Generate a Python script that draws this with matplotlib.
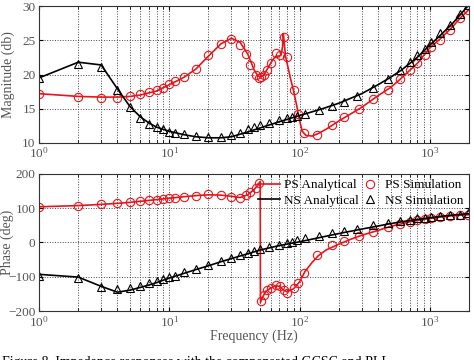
import numpy as np
import matplotlib
matplotlib.use('Agg')
import matplotlib.pyplot as plt

plt.rcParams['font.family'] = ['Liberation Serif', 'DejaVu Serif']
plt.rcParams['mathtext.fontset'] = 'stix'

### simulation points ###
ps_sim_f = [1, 2, 3, 4, 5, 6, 7, 8, 9, 10, 11, 13, 16, 20, 25, 30, 35, 39, 42, 46, 49, 51, 53, 56, 60,
            66, 71, 76, 80, 90, 98, 108, 136, 179, 218, 284, 364, 475, 590, 700, 800, 911, 1020, 1200,
            1420, 1700, 1970]
ps_sim_mag = [17.1, 16.7, 16.6, 16.6, 16.8, 17.1, 17.4, 17.7, 18.1, 18.6, 19.0, 19.7, 20.85, 22.9, 24.4,
              25.2, 24.3, 23.0, 21.4, 19.9, 19.5, 19.6, 19.9, 20.7, 21.7, 23.2, 22.85, 25.5, 22.6, 17.8,
              14.3, 11.4, 11.2, 12.6, 13.75, 14.9, 16.4, 17.8, 19.3, 20.65, 21.7, 22.85, 24.05, 25.1,
              26.5, 28.2, 29.4]
ps_sim_ph = [104.6, 107.5, 111.5, 114.4, 117.3, 120.3, 123.2, 125, 127, 129, 130.8, 133.7, 136.7, 140.5,
             138.7, 134, 130, 138, 148, 158, 172, -170, -153, -139, -134, -124, -128, -139, -146, -134,
             -119, -88, -37, -8, 5, 19, 31.5, 46, 54, 60.7, 65.6, 67.7, 70.6, 75.3, 77.4, 80.3, 80.3]

ns_sim_f = [1, 2, 3, 4, 5, 6, 7, 8, 9, 10, 11, 13, 16, 20, 25, 30, 35, 40, 45, 50, 58, 69, 80, 88, 96,
            111, 141, 179, 218, 278, 364, 475, 590, 700, 800, 911, 1020, 1200, 1420, 1700, 1970]
ns_sim_mag = [19.55, 21.6, 21.1, 17.7, 15.2, 13.6, 12.8, 12.3, 12.0, 11.65, 11.5, 11.27, 11.0, 10.8,
              10.85, 11.1, 11.5, 12.0, 12.3, 12.6, 12.95, 13.35, 13.6, 13.8, 14.0, 14.3, 14.8, 15.4,
              16.0, 16.9, 18.0, 19.35, 20.65, 21.9, 22.85, 23.7, 24.8, 26.0, 27.2, 28.9, 30.1]
ns_sim_ph = [-97.8, -104.6, -129, -136.7, -133.7, -127, -119, -112, -106.6, -101.6, -97.8, -86, -76,
             -65, -53, -44, -36, -30, -24, -19, -12.3, -7.3, -2, 2.3, 8, 12.3, 20, 26.9, 33.6, 38.5,
             51, 56, 63.6, 65.6, 70.6, 70.6, 75.3, 77.4, 80.3, 80, 85]

### analytical curves ###
ps_an_f = [1, 2, 3, 4, 5, 6, 8, 10, 13, 16, 20, 25, 30, 35, 40, 45, 48, 50, 53, 57, 62, 66, 70, 72,
           74, 75, 76, 78, 85, 90, 95, 100, 105, 112, 125, 140, 160, 200, 250, 300, 400, 500, 600,
           700, 800, 1000, 1200, 1500, 1700, 2000]
ps_an_mag = [17.2, 16.8, 16.7, 16.7, 16.8, 17.0, 17.6, 18.5, 19.6, 20.8, 22.7, 24.5, 25.3, 24.7, 23.0,
             20.6, 19.8, 19.6, 19.9, 20.9, 22.1, 22.7, 22.7, 22.8, 24.0, 26.0, 25.0, 22.7, 19.5, 17.6,
             15.5, 13.3, 11.7, 11.1, 11.0, 11.4, 12.0, 13.2, 14.3, 15.2, 16.9, 18.1, 19.4, 20.6, 21.6,
             23.9, 25.2, 27.0, 28.2, 29.5]
ps_an_ph_f = [1, 2, 3, 4, 5, 6, 8, 10, 13, 16, 20, 25, 30, 35, 40, 45, 48, 49.9, 50.1, 52, 55, 60, 66,
              70, 75, 80, 90, 100, 110, 125, 140, 160, 200, 250, 300, 400, 500, 600, 700, 800, 1000,
              1200, 1500, 2000]
ps_an_ph = [104, 107.5, 111, 114, 117, 120, 125, 129, 133.5, 136.5, 139, 138, 134.5, 131, 139, 155,
            168, 178, -175, -160, -143, -133, -126, -128, -138, -144, -135, -115, -85, -58, -38, -22,
            -5, 10, 21, 35, 47, 54, 60, 64, 70, 74, 78, 81]

ns_an_f = [1, 2, 3, 4, 5, 6, 7, 8, 10, 13, 16, 20, 25, 30, 40, 50, 70, 100, 150, 200, 300, 400, 500,
           600, 700, 800, 1000, 1200, 1500, 2000]
ns_an_mag = [19.5, 21.8, 21.4, 17.9, 15.3, 13.8, 12.9, 12.3, 11.7, 11.2, 10.9, 10.75, 10.75, 10.9,
             11.6, 12.2, 13.1, 14.0, 15.0, 15.8, 17.2, 18.5, 19.6, 20.6, 21.6, 22.5, 24.3, 25.7, 27.5,
             30.2]
ns_an_ph = [-93, -101, -128, -145, -139, -131, -124, -117, -104, -90, -79, -68, -56, -47, -33, -22,
            -9, 2, 16, 26, 39, 48, 55, 60, 64, 67, 72, 76, 80, 84]

red = '#e8141b'
grey = '#555555'

fig = plt.figure(figsize=(4.74, 3.6), dpi=100)
ax1 = fig.add_axes([0.0823, 0.603, 0.9072, 0.380])
ax2 = fig.add_axes([0.0823, 0.136, 0.9072, 0.381])

### magnitude ###
ax1.plot(ps_an_f, ps_an_mag, color=red, lw=1.2)
ax1.plot(ps_sim_f, ps_sim_mag, 'o', mfc='none', mec=red, ms=6, mew=0.8)
ax1.plot(ns_an_f, ns_an_mag, color='k', lw=1.2)
ax1.plot(ns_sim_f, ns_sim_mag, '^', mfc='none', mec='k', ms=6, mew=0.8)
ax1.set_ylim(10, 30)
ax1.set_yticks([10, 15, 20, 25, 30])
ax1.set_ylabel("Magnitude (db)", color=grey, fontsize=10)
ax1.yaxis.set_label_coords(-0.055, 0.5)

### phase ###
l1, = ax2.plot(ps_an_ph_f, ps_an_ph, color=red, lw=1.2)
m1, = ax2.plot(ps_sim_f, ps_sim_ph, 'o', mfc='none', mec=red, ms=6, mew=0.8)
l2, = ax2.plot(ns_an_f, ns_an_ph, color='k', lw=1.2)
m2, = ax2.plot(ns_sim_f, ns_sim_ph, '^', mfc='none', mec='k', ms=6, mew=0.8)
ax2.set_ylim(-200, 200)
ax2.set_yticks([-200, -100, 0, 100, 200])
ax2.set_ylabel("Phase (deg)", color=grey, fontsize=10)
ax2.yaxis.set_label_coords(-0.058, 0.5)
ax2.set_xlabel("Frequency (Hz)", color=grey, fontsize=10, labelpad=0)
# legend filled column-wise, so order gives PS on the first row, NS on the second
ax2.legend([l1, l2, m1, m2], ['PS Analytical', 'NS Analytical', 'PS Simulation', 'NS Simulation'],
           loc='upper right', ncol=2, frameon=False, fontsize=9.5, handlelength=1.7,
           handletextpad=0.3, columnspacing=0.0, borderaxespad=0.0, labelspacing=0.25)

for ax in (ax1, ax2):
    ax.set_xscale('log')
    ax.set_xlim(1, 2000)
    ax.grid(True, which='both', axis='x', ls=':', color='#444444', lw=0.7)
    ax.grid(True, which='major', axis='y', ls=':', color='#444444', lw=0.7)
    ax.tick_params(which='both', direction='in', top=True, right=True, labelcolor=grey,
                   labelsize=9.5, pad=2.5)
    ax.tick_params(which='major', length=3)
    ax.tick_params(which='minor', length=2)
    for s in ax.spines.values():
        s.set_color('#333333')

fig.text(0.005, 0.010, "Figure 8. Impedance responses with the compensated GCSC and PLL.",
         fontsize=10, va='top', ha='left')

fig.savefig('out.png', dpi=100)
